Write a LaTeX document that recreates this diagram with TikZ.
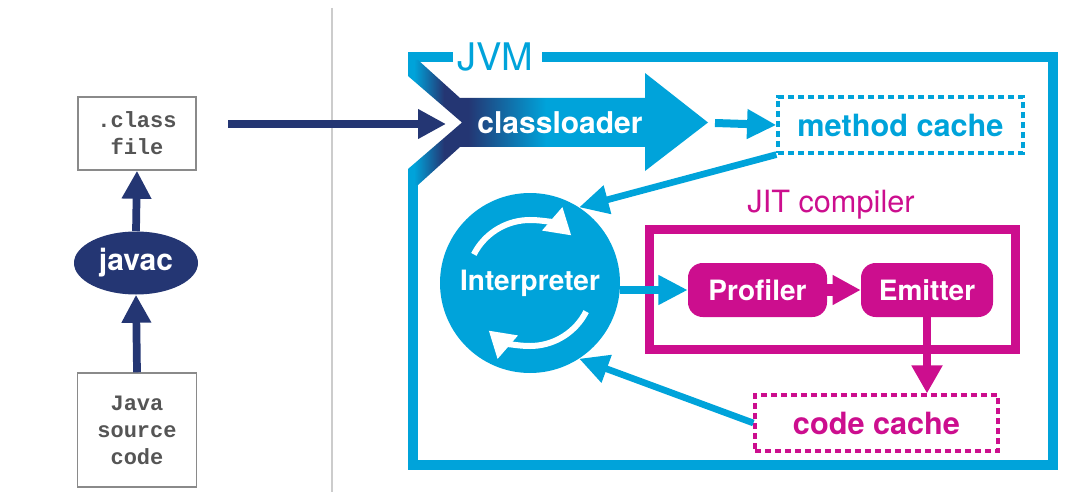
\documentclass[tikz,border=0pt]{standalone}
\usepackage{fontspec}
\setmainfont{TeX Gyre Heros}
\newfontfamily\monofont{Liberation Mono}
\usetikzlibrary{arrows.meta,shapes.geometric,calc}
\definecolor{jblue}{HTML}{00A3DA}
\definecolor{jnavy}{HTML}{243673}
\definecolor{jmag}{HTML}{CC0E8E}
\definecolor{jgray}{HTML}{8A8A8A}
\definecolor{jtext}{HTML}{555555}
\definecolor{jsep}{HTML}{CCCCCC}
\pgfdeclarehorizontalshading{clshade}{100bp}{color(0bp)=(jblue); color(26bp)=(jblue); color(31bp)=(jnavy); color(35bp)=(jnavy); color(48bp)=(jblue); color(100bp)=(jblue)}
\begin{document}
\begin{tikzpicture}[x=0.75pt,y=-0.75pt,
  graybox/.style={draw=jgray, line width=1.1pt, align=center, text=jtext,
    font=\monofont\bfseries\fontsize{16.5}{20.25}\selectfont, inner sep=0pt},
  navyarrow/.style={draw=jnavy, line width=5.8pt, -{Triangle[length=21pt,width=21pt]}},
  bluearrow/.style={draw=jblue, line width=5pt, -{Triangle[length=22pt,width=21pt]}},
  magarrow/.style={draw=jmag, line width=6pt, -{Triangle[length=21pt,width=22pt]}},
  jvmwall/.style={draw=jblue, line width=7.5pt, line join=miter},
  dashbox/.style={line width=2.4pt, dash pattern=on 4.6pt off 2.9pt, inner sep=0pt,
    font=\bfseries\fontsize{23}{27}\selectfont},
  magbox/.style={fill=jmag, rounded corners=11pt, text=white, inner sep=0pt,
    minimum height=40.5pt, font=\bfseries\fontsize{21}{25}\selectfont},
  innerarrow/.style={draw=white, line width=4.5pt, -{Triangle[length=19pt,width=22pt]}}
]
\useasboundingbox (0,0) rectangle (1072,492);
% separator
\draw[jsep, line width=1.5pt] (332,8) -- (332,492);

% left column
\node[graybox, minimum width=88.5pt, minimum height=54.75pt] (classfile) at (137,133.5) {.class\\file};
\node[ellipse, fill=jnavy, text=white, minimum width=93pt, minimum height=47.25pt, inner sep=0pt,
  font=\bfseries\fontsize{22.5}{27}\selectfont] (javac) at (136,263) {javac};
\node[graybox, minimum width=89.25pt, minimum height=85.5pt] (source) at (137,430) {Java\\source\\code};
\draw[navyarrow] (source.north) -- (javac.south);
\draw[navyarrow] (javac.north) -- (classfile.south);

% JVM frame
\draw[jvmwall] (453,57) -- (413,57) -- (413,70);
\draw[jvmwall] (413,176) -- (413,465) -- (1053,465) -- (1053,57) -- (542,57);
\node[text=jblue, font=\fontsize{28.5}{32}\selectfont, inner sep=0pt] (jvm) at (495,57) {JVM};

% classloader arrow
\shade[shading=clshade] (408,60) -- (418,60) -- (460,98) -- (645,98) -- (645,73) -- (708,122.5)
  -- (645,171) -- (645,147) -- (460,147) -- (418,185) -- (408,185) -- (408,169)
  -- (462,122.5) -- (408,76) -- cycle;
\node[text=white, font=\bfseries\fontsize{22.5}{27}\selectfont, inner sep=0pt] (cl) at (560,123) {classloader};
\coordinate (clsrc) at (228,124);
\coordinate (clin) at (446,124);
\draw[navyarrow] (clsrc) -- (clin);

% method cache
\node[dashbox, draw=jblue, text=jblue, minimum width=183.75pt, minimum height=42pt] (mc) at (900.5,125) {method cache};
\coordinate (clout) at (715,123);
\draw[bluearrow, line width=6pt] (clout) -- (mc.west);

% interpreter
\node[circle, fill=jblue, minimum size=135pt, inner sep=0pt, text=white,
  font=\bfseries\fontsize{21}{25}\selectfont] (interp) at (530,283) {Interpreter};
\draw[innerarrow] ([shift={(-153:63)}]interp.center) arc[start angle=-153, end angle=-49, radius=63];
\draw[innerarrow] ([shift={(27:63)}]interp.center) arc[start angle=27, end angle=131, radius=63];
\draw[bluearrow] (mc.south west) -- (interp.57);

% JIT compiler
\node[draw=jmag, line width=6.75pt, minimum width=274.5pt, minimum height=90pt] (jit) at (832,289) {};
\node[text=jmag, font=\fontsize{23}{27}\selectfont, inner sep=0pt] (jitlabel) at (831,205) {JIT compiler};
\node[magbox, minimum width=104.25pt] (prof) at (757.5,290) {Profiler};
\node[magbox, minimum width=99pt] (emit) at (927,290) {Emitter};
\draw[bluearrow, line width=6pt] (interp.east |- prof.west) -- (prof.west);
\draw[draw=jmag, line width=9pt, -{Triangle[length=21pt,width=21pt]}] (prof.east) -- (emit.west);

% code cache
\node[dashbox, draw=jmag, text=jmag, minimum width=182.25pt, minimum height=42pt] (cc) at (876.5,423) {code cache};
\draw[magarrow] (emit.south) -- (emit.south |- cc.north);
\draw[bluearrow] (cc.west) -- (interp.-57);
\end{tikzpicture}
\end{document}
